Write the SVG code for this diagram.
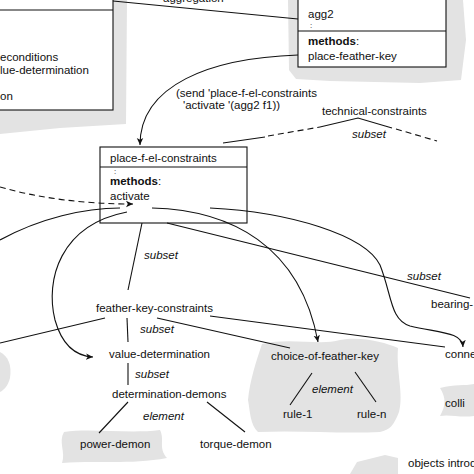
<svg xmlns="http://www.w3.org/2000/svg" width="474" height="474" viewBox="0 0 474 474">
<defs>
<style>
text{font-family:"Liberation Sans",Arial,sans-serif;font-size:11.5px;fill:#111}
.it{font-style:italic}
.b{font-weight:bold}
.sm{font-size:8px}
.ln{fill:none;stroke:#111;stroke-width:1.1}
.dash{stroke-dasharray:6,4}
.box{fill:#fff;stroke:#111;stroke-width:1.1}
.sh{fill:#e3e3e3;stroke:none}
</style>
<marker id="arr" markerWidth="8" markerHeight="8" refX="7" refY="4" orient="auto" markerUnits="userSpaceOnUse">
<path d="M0,0.8 L7,4 L0,7.2 L1.8,4 Z" fill="#111"/>
</marker>
</defs>
<rect width="474" height="474" fill="#fff"/>
<g id="shadows">
<path class="sh" d="M113,0 H127 L126,124 L60,128 L0,134 V110 H113 Z"/>
<path class="sh" d="M288,0 H463 L466,40 L461,80 L420,83 L330,81 L296,79 L289,70 Z"/>
<path class="sh" d="M0,352 C8,356 12,365 10,378 C8,386 4,390 0,392 Z"/>
</g>
<g id="node-top-left">
<rect class="box" x="-10" y="-10" width="123" height="120"/>
<line class="ln" x1="0" y1="10" x2="113" y2="10"/>
<text x="0" y="61">econditions</text>
<text x="0" y="74">lue-determination</text>
<text x="0" y="100">on</text>
</g>
<g id="node-agg2">
<rect class="box" x="298" y="-10" width="148" height="77"/>
<line class="ln" x1="298" y1="31" x2="446" y2="31"/>
<text x="308" y="18">agg2</text>
<text class="sm" x="310" y="28">:</text>
<text x="308" y="45"><tspan class="b">methods</tspan>:</text>
<text x="308" y="60">place-feather-key</text>
</g>
<g id="node-place-f-el">
<rect class="box" x="100" y="147" width="147" height="76"/>
<line class="ln" x1="100" y1="167" x2="247" y2="167"/>
<text x="110" y="162">place-f-el-constraints</text>
<text class="sm" x="114" y="174">:</text>
<text x="110" y="185"><tspan class="b">methods</tspan>:</text>
<text x="110" y="200">activate</text>
</g>
<g id="node-technical">
<text x="322" y="115">technical-constraints</text>
</g>
<g id="node-feather-key">
<text x="96" y="312">feather-key-constraints</text>
</g>
<g id="node-bearing">
<text x="431" y="308">bearing-</text>
</g>
<g id="node-value-det">
<text x="109" y="358">value-determination</text>
</g>
<g id="node-choice">
<path class="sh" d="M262,344 C290,337 320,346 340,340 C360,336 385,342 398,348 C396,370 404,395 399,412 C394,425 390,430 380,432 C340,434 300,430 258,432 C250,425 250,410 248,400 C250,380 256,362 262,344 Z"/>
<text x="271" y="360">choice-of-feather-key</text>
</g>
<g id="node-rule-1"><text x="283" y="418">rule-1</text></g>
<g id="node-rule-n"><text x="357" y="418">rule-n</text></g>
<g id="node-conne"><text x="445" y="358">conne</text></g>
<g id="node-det-demons"><text x="112" y="398">determination-demons</text></g>
<g id="node-colli">
<path class="sh" d="M440,388 C455,384 465,386 474,384 V416 C460,418 450,414 440,416 C446,405 446,398 440,388 Z"/>
<text x="445" y="407">colli</text>
</g>
<g id="node-power">
<path class="sh" d="M64,432 C90,428 130,434 160,430 C165,440 158,448 167,458 C130,465 95,460 62,463 C66,452 58,442 64,432 Z"/>
<text x="80" y="448">power-demon</text>
</g>
<g id="node-torque"><text x="200" y="448">torque-demon</text></g>
<g id="node-objects">
<path class="sh" d="M357,462 L385,455 L398,458 L398,474 H350 Z"/>
<text x="408" y="467">objects introd</text>
</g>
<g id="connectors">
<line class="ln" x1="113" y1="1" x2="298" y2="19"/>
<text x="163" y="2">aggregation</text>
<path class="ln" d="M298,55 C210,58 140,85 140,145" marker-end="url(#arr)"/>
<text x="176" y="97">(send 'place-f-el-constraints</text>
<text x="183" y="109">'activate '(agg2 f1))</text>
<path class="ln" d="M223,143 L265,137"/>
<path class="ln dash" d="M268,136 L320,127"/>
<path class="ln" d="M320,127 L358,118 L392,128"/>
<path class="ln dash" d="M396,129 L437,141"/>
<text class="it" x="352" y="138">subset</text>
<path class="ln dash" d="M0,187 Q60,204 133,204" marker-end="url(#arr)"/>
<path class="ln" d="M0,240 C40,218 85,208 120,208"/>
<path class="ln" d="M152,208 C230,210 300,245 318,342" marker-end="url(#arr)"/>
<path class="ln" d="M127,212 C60,225 45,280 55,320 C62,345 75,356 93,357" marker-end="url(#arr)"/>
<path class="ln" d="M210,208 C290,212 365,235 380,265 C392,295 390,320 410,326 C440,333 462,332 463,347" marker-end="url(#arr)"/>
<line class="ln" x1="142" y1="223" x2="128" y2="290"/>
<text class="it" x="144" y="259">subset</text>
<line class="ln" x1="167" y1="223" x2="470" y2="298"/>
<text class="it" x="407" y="280">subset</text>
<line class="ln" x1="105" y1="318" x2="0" y2="343"/>
<line class="ln" x1="127" y1="318" x2="128" y2="342"/>
<text class="it" x="140" y="333">subset</text>
<line class="ln" x1="157" y1="318" x2="290" y2="348"/>
<line class="ln" x1="210" y1="316" x2="445" y2="347"/>
<line class="ln" x1="128" y1="363" x2="128" y2="385"/>
<text class="it" x="135" y="378">subset</text>
<line class="ln" x1="128" y1="402" x2="99" y2="433"/>
<line class="ln" x1="207" y1="402" x2="245" y2="432"/>
<text class="it" x="143" y="420">element</text>
<line class="ln" x1="312" y1="373" x2="290" y2="405"/>
<line class="ln" x1="355" y1="372" x2="376" y2="402"/>
<text class="it" x="312" y="393">element</text>
</g>
</svg>
